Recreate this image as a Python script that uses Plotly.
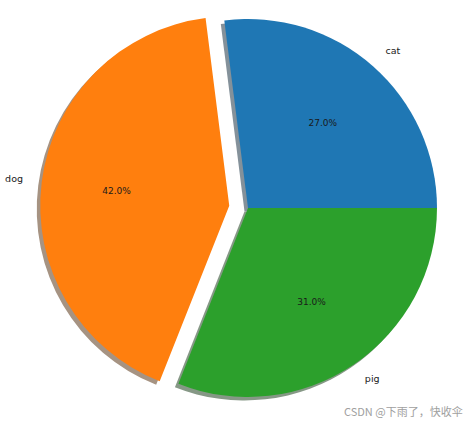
import math

import plotly.graph_objects as go

# data
labels = ['cat', 'dog', 'pig']
values = [27, 42, 31]
explode = [0, 0.1, 0]
colors = ['#1f77b4', '#ff7f0e', '#2ca02c']

# layout constants (px)
W, H = 474, 430
CX, CY = 248, 208  # pie centre, from top-left
R = 189
LABEL_DIST = 1.1
PCT_DIST = 0.6
SHADOW_OFF = 3.5
FONT = 'DejaVu Sans'


def shadow_color(hex_color):
    """Matplotlib-like shadow: 0.3 * facecolor at alpha 0.5 over white."""
    rgb = [int(hex_color[i:i + 2], 16) for i in (1, 3, 5)]
    return 'rgb(%d,%d,%d)' % tuple(round(127.5 + 0.15 * c) for c in rgb)


def pie_domain(dx=0, dy=0):
    half = R * (1 + max(explode))
    x = [(CX - half + dx) / W, (CX + half + dx) / W]
    y = [(H - CY - half - dy) / H, (H - CY + half - dy) / H]
    return dict(x=x, y=y)


# mid angle of each wedge, counter-clockwise from 3 o'clock
total = sum(values)
mids = []
acc = 0
for v in values:
    mids.append((acc + v / 2) / total * 360)
    acc += v

# plotly ccw pies put the end of the first slice at `rotation` (clockwise from 12)
common = dict(labels=labels, values=values, pull=explode, sort=False,
              direction='counterclockwise', rotation=90 - 360 * values[0] / total)

fig = go.Figure()

# shadow
fig.add_trace(go.Pie(
    **common,
    domain=pie_domain(-SHADOW_OFF, SHADOW_OFF),
    marker=dict(colors=[shadow_color(c) for c in colors], line=dict(width=0)),
    textinfo='none', hoverinfo='skip', showlegend=False,
))

# wedges
fig.add_trace(go.Pie(
    **common,
    domain=pie_domain(),
    marker=dict(colors=colors, line=dict(width=0)),
    textinfo='none', showlegend=False,
))

# percentages: transparent overlay, hole makes plotly centre text at PCT_DIST
fig.add_trace(go.Pie(
    **common,
    domain=pie_domain(),
    hole=1 - 2 * (1 - PCT_DIST),
    marker=dict(colors=['rgba(0,0,0,0)'] * len(values), line=dict(width=0)),
    texttemplate='%{percent:.1%}', textposition='inside',
    insidetextorientation='horizontal',
    textfont=dict(family=FONT, size=9, color='#1a1a1a'),
    hoverinfo='skip', showlegend=False,
))

# category labels on hidden cartesian axes, 1 unit = pie radius, origin = pie centre
lx = [(LABEL_DIST + e) * math.cos(math.radians(m)) for e, m in zip(explode, mids)]
ly = [(LABEL_DIST + e) * math.sin(math.radians(m)) for e, m in zip(explode, mids)]
fig.add_trace(go.Scatter(
    x=lx, y=ly, text=labels, mode='text',
    textposition=['middle right' if x > 0 else 'middle left' for x in lx],
    textfont=dict(family=FONT, size=9.5, color='#1a1a1a'),
    cliponaxis=False, hoverinfo='skip', showlegend=False,
))

fig.update_layout(
    width=W, height=H,
    margin=dict(l=0, r=0, t=0, b=0),
    paper_bgcolor='white',
    plot_bgcolor='rgba(0,0,0,0)',
    showlegend=False,
    xaxis=dict(range=[-CX / R, (W - CX) / R], visible=False, fixedrange=True),
    yaxis=dict(range=[-(H - CY) / R, CY / R], visible=False, fixedrange=True),
    annotations=[dict(
        text='CSDN @下雨了，快收伞', xref='paper', yref='paper',
        x=465 / W, y=(H - 411) / H, xanchor='right', yanchor='middle',
        showarrow=False, font=dict(family='Noto Sans CJK SC', size=11, color='#a0a0a0'),
    )],
)

fig.write_html('out.html', config={'displayModeBar': False},
               post_script="document.body.style.margin = '0px';")
